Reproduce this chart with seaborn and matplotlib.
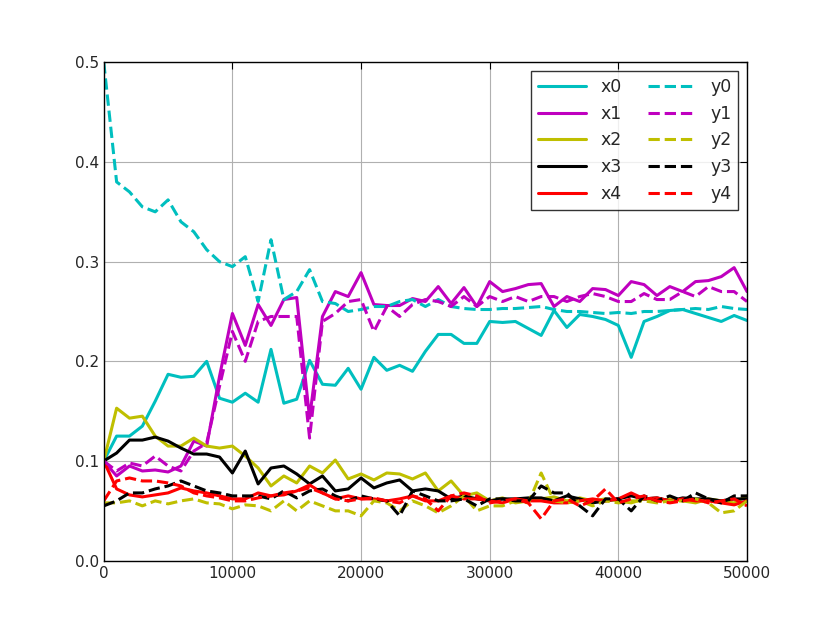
import numpy as np
import pandas as pd
import matplotlib
matplotlib.use("Agg")
import matplotlib.pyplot as plt
import seaborn as sns

steps = list(range(0, 50001, 1000))
x0 = [0.10,0.125,0.125,0.135,0.16,0.187,0.184,0.185,0.20,0.163,0.159,0.168,0.159,0.212,0.158,0.162,0.201,0.177,0.176,0.193,0.172,0.204,0.191,0.196,0.19,0.21,0.227,0.227,0.218,0.218,0.24,0.239,0.24,0.233,0.226,0.251,0.234,0.247,0.245,0.242,0.236,0.204,0.24,0.245,0.251,0.252,0.248,0.244,0.24,0.246,0.241]
y0 = [0.5,0.38,0.37,0.355,0.35,0.362,0.34,0.33,0.312,0.30,0.295,0.305,0.26,0.322,0.262,0.27,0.292,0.26,0.258,0.25,0.252,0.255,0.255,0.26,0.262,0.255,0.262,0.255,0.253,0.252,0.252,0.253,0.253,0.254,0.255,0.252,0.25,0.25,0.249,0.248,0.249,0.248,0.25,0.25,0.251,0.252,0.253,0.252,0.255,0.253,0.252]
x1 = [0.10,0.085,0.095,0.09,0.091,0.089,0.095,0.12,0.115,0.185,0.248,0.216,0.257,0.236,0.262,0.264,0.143,0.245,0.27,0.265,0.289,0.257,0.256,0.256,0.263,0.26,0.275,0.258,0.274,0.255,0.28,0.27,0.273,0.277,0.278,0.255,0.265,0.26,0.273,0.272,0.266,0.28,0.277,0.266,0.275,0.27,0.28,0.281,0.285,0.294,0.27]
y1 = [0.10,0.09,0.098,0.095,0.105,0.095,0.09,0.11,0.118,0.175,0.23,0.2,0.24,0.245,0.245,0.245,0.123,0.24,0.248,0.26,0.262,0.23,0.255,0.245,0.257,0.262,0.26,0.255,0.265,0.255,0.265,0.26,0.265,0.26,0.265,0.265,0.26,0.265,0.268,0.265,0.26,0.26,0.268,0.262,0.262,0.27,0.265,0.275,0.27,0.27,0.26]
x2 = [0.10,0.153,0.143,0.145,0.125,0.115,0.115,0.123,0.115,0.113,0.115,0.105,0.093,0.075,0.085,0.078,0.095,0.088,0.101,0.082,0.087,0.081,0.088,0.087,0.082,0.088,0.07,0.08,0.065,0.068,0.06,0.063,0.058,0.06,0.062,0.064,0.06,0.063,0.06,0.062,0.06,0.058,0.062,0.06,0.062,0.06,0.058,0.062,0.06,0.058,0.065]
y2 = [0.058,0.058,0.06,0.055,0.06,0.057,0.06,0.062,0.058,0.057,0.052,0.056,0.055,0.05,0.06,0.05,0.06,0.055,0.05,0.05,0.045,0.06,0.058,0.05,0.06,0.055,0.048,0.055,0.065,0.05,0.055,0.055,0.06,0.058,0.088,0.06,0.058,0.06,0.055,0.06,0.058,0.06,0.06,0.058,0.06,0.06,0.062,0.058,0.048,0.05,0.06]
x3 = [0.10,0.108,0.121,0.121,0.124,0.12,0.113,0.107,0.107,0.104,0.088,0.11,0.077,0.093,0.095,0.087,0.077,0.085,0.07,0.072,0.083,0.073,0.078,0.081,0.07,0.072,0.07,0.062,0.065,0.062,0.06,0.062,0.062,0.063,0.063,0.06,0.065,0.062,0.058,0.06,0.062,0.065,0.062,0.063,0.06,0.063,0.062,0.062,0.06,0.062,0.062]
y3 = [0.055,0.06,0.068,0.068,0.072,0.075,0.08,0.075,0.07,0.068,0.065,0.065,0.065,0.062,0.07,0.063,0.07,0.072,0.065,0.06,0.065,0.062,0.06,0.045,0.07,0.065,0.06,0.06,0.062,0.055,0.062,0.062,0.06,0.06,0.075,0.068,0.068,0.055,0.045,0.062,0.062,0.05,0.065,0.06,0.065,0.06,0.068,0.062,0.058,0.065,0.065]
x4 = [0.10,0.072,0.066,0.064,0.066,0.068,0.073,0.070,0.068,0.065,0.062,0.062,0.068,0.065,0.066,0.07,0.076,0.068,0.062,0.065,0.062,0.062,0.06,0.062,0.065,0.06,0.06,0.065,0.062,0.062,0.06,0.058,0.062,0.06,0.06,0.058,0.058,0.06,0.062,0.06,0.062,0.068,0.062,0.063,0.06,0.062,0.06,0.06,0.058,0.056,0.06]
y4 = [0.06,0.08,0.083,0.08,0.08,0.078,0.075,0.068,0.065,0.063,0.06,0.06,0.063,0.065,0.068,0.07,0.073,0.068,0.062,0.06,0.062,0.063,0.06,0.058,0.065,0.062,0.05,0.065,0.068,0.065,0.058,0.06,0.062,0.058,0.042,0.06,0.062,0.055,0.06,0.072,0.058,0.062,0.065,0.06,0.058,0.06,0.062,0.058,0.06,0.062,0.055]

series = {"x0": x0, "x1": x1, "x2": x2, "x3": x3, "x4": x4,
          "y0": y0, "y1": y1, "y2": y2, "y3": y3, "y4": y4}
colors = ["#00bfbf", "#bf00bf", "#bfbf00", "black", "red"]

sns.set_style("white")
plt.rcParams['font.family'] = ['DejaVu Sans']
fig = plt.figure(figsize=(8.3, 6.23), dpi=100)
ax = fig.add_axes([0.125, 0.1, 0.775, 0.8])

for name, vals in series.items():
    i = int(name[1])
    ls = "-" if name[0] == "x" else "--"
    sns.lineplot(x=steps, y=vals, ax=ax, color=colors[i], linestyle=ls, lw=2.2, label=name)

ax.set_xlim(0, 50000)
ax.set_ylim(0, 0.5)
ax.set_xticks(range(0, 50001, 10000))
ax.set_yticks([0, 0.1, 0.2, 0.3, 0.4, 0.5])
ax.set_yticklabels(["0.0", "0.1", "0.2", "0.3", "0.4", "0.5"])
ax.grid(True, color="#b0b0b0", lw=0.8)
for s in ax.spines.values():
    s.set_color("black"); s.set_linewidth(1)
ax.tick_params(direction="in", length=5, labelsize=11, top=True, right=True, color="black")
ax.legend(ncol=2, loc="upper right", fontsize=12.5, frameon=True, fancybox=False,
          edgecolor="black", handlelength=2.8, columnspacing=1.5)
fig.savefig("out.png", dpi=100)
